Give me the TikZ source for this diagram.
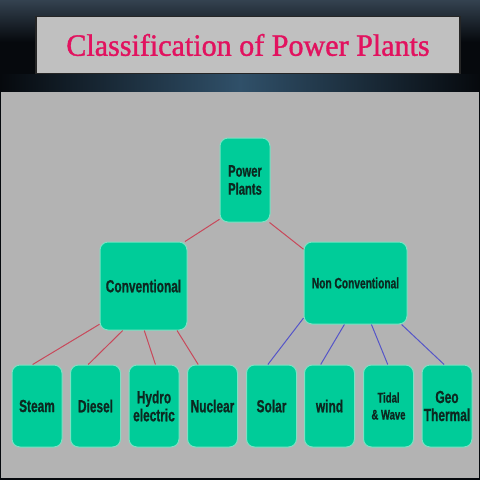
\documentclass[tikz,border=0pt]{standalone}
\usepackage{fontspec}
\usepackage{tikz}
\usetikzlibrary{calc}
\newfontfamily\boxfont[FakeStretch=0.68, BoldFeatures={FakeBold=0.8}]{Liberation Sans}
\newfontfamily\titlefont[FakeBold=1.2, FakeStretch=0.97]{Liberation Serif}
\definecolor{panelColor}{RGB}{179, 179, 179}
\definecolor{titleFill}{RGB}{192, 192, 192}
\definecolor{titleColor}{RGB}{226, 18, 95}
\definecolor{boxFill}{RGB}{0, 204, 153}
\definecolor{boxEdge}{RGB}{125, 225, 195}
\definecolor{boxText}{RGB}{12, 40, 32}
\definecolor{redLine}{RGB}{200, 72, 90}
\definecolor{blueLine}{RGB}{85, 85, 200}
\definecolor{bandDark}{RGB}{6, 9, 13}
\definecolor{bandBlue}{RGB}{48, 80, 105}

\begin{document}
\begin{tikzpicture}[
    x=1pt, y=-1pt,
    every node/.style={text=boxText},
    plant box/.style={draw=boxEdge, fill=boxFill, line width=1pt, rounded corners=8pt,
        inner sep=0pt, align=center, font=\boxfont\bfseries\fontsize{17.5}{18}\selectfont},
    leaf box/.style={plant box, minimum width=50pt, minimum height=82pt},
    red link/.style={draw=redLine, line width=1pt},
    blue link/.style={draw=blueLine, line width=1pt}
]
    \useasboundingbox (0,0) rectangle (480,480);

    % background bands
    \fill[bandDark] (0,0) rectangle (480,480);
    \shade[top color={rgb,255:red,52;green,66;blue,80}, bottom color=bandDark] (0,0) rectangle (480,42);
    \shade[left color=bandDark, right color=bandDark, middle color=bandBlue] (0,74) rectangle (480,91);
    \fill[panelColor] (1,92) rectangle (479,478);

    % title
    \node[draw=black!85, line width=1.5pt, fill=titleFill, minimum width=424pt, minimum height=57pt,
          inner sep=0pt] (title) at (248,45) {};
    \node[text=titleColor, font=\titlefont\fontsize{31}{31}\selectfont] at (title.center) {Classification of Power Plants};

    % tree
    \node[plant box, minimum width=50pt, minimum height=84pt,
          font=\boxfont\bfseries\fontsize{16.5}{18}\selectfont] (pp) at (245,180) {Power\\Plants};
    \node[plant box, minimum width=87pt, minimum height=88pt] (conv) at (143.5,286) {Conventional};
    \node[plant box, minimum width=103pt, minimum height=82pt,
          font=\boxfont\bfseries\fontsize{15}{18}\selectfont] (ncon) at (355.5,283) {Non Conventional};

    \node[leaf box] (steam)   at (37,406)    {Steam};
    \node[leaf box] (diesel)  at (95.5,406)  {Diesel};
    \node[leaf box] (hydro)   at (154,406)   {Hydro\\electric};
    \node[leaf box] (nuclear) at (212.5,406) {Nuclear};
    \node[leaf box] (solar)   at (271.5,406) {Solar};
    \node[leaf box] (wind)    at (329.5,406) {wind};
    \node[leaf box, font=\boxfont\bfseries\fontsize{14}{17}\selectfont] (tidal) at (388.5,406) {Tidal\\\& Wave};
    \node[leaf box] (geo)     at (447,406)   {Geo\\Thermal};

    \draw[red link] (pp.237) -- (conv.47);
    \draw[red link] (pp.300) -- (ncon.147);

    \draw[red link] (conv.221) -- (steam.96);
    \draw[red link] (conv.245) -- (diesel.100);
    \draw[red link] (conv.271) -- (hydro.88);
    \draw[red link] (conv.307) -- (nuclear.109);

    \draw[blue link] (ncon.214) -- (solar.95);
    \draw[blue link] (ncon.255) -- (wind.102);
    \draw[blue link] (ncon.291) -- (tidal.91);
    \draw[blue link] (ncon.318) -- (geo.94);
\end{tikzpicture}
\end{document}
